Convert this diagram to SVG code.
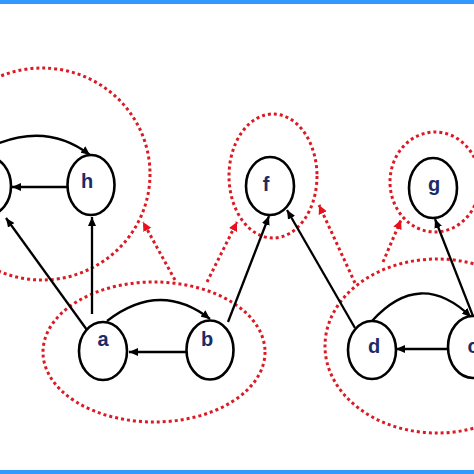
<svg xmlns="http://www.w3.org/2000/svg" width="474" height="474" viewBox="0 0 474 474">
<defs>
<style>
.grp{fill:none;stroke:#dc1a24;stroke-width:3;stroke-dasharray:3 3}
.rarr{fill:none;stroke:#dc1a24;stroke-width:3;stroke-dasharray:3 3;marker-end:url(#rh)}
.edge{fill:none;stroke:#000;stroke-width:2.3;marker-end:url(#bh)}
.node{fill:#fff;stroke:#000;stroke-width:2.6}
.lbl{font-family:"Liberation Sans",Arial,sans-serif;font-weight:bold;font-size:20px;fill:#1c2a66;text-anchor:middle}
</style>
<marker id="bh" markerUnits="userSpaceOnUse" markerWidth="10" markerHeight="8" refX="9" refY="4" orient="auto">
<path d="M0,0 L9,4 L0,8 z" fill="#000"/>
</marker>
<marker id="rh" markerUnits="userSpaceOnUse" markerWidth="10" markerHeight="10" refX="9" refY="4.5" orient="auto">
<path d="M0,0 L9,4.5 L0,9 z" fill="#e8101c"/>
</marker>
</defs>
<rect x="0" y="0" width="474" height="474" fill="#fff"/>
<rect x="0" y="0" width="474" height="4" fill="#3399ff"/>
<rect x="0" y="470" width="474" height="4" fill="#3399ff"/>
<g id="groups">
<ellipse class="grp" cx="42" cy="174" rx="108" ry="106"/>
<ellipse class="grp" cx="154" cy="352" rx="111" ry="70"/>
<ellipse class="grp" cx="273" cy="176" rx="44" ry="62"/>
<ellipse class="grp" cx="435" cy="182" rx="45" ry="50"/>
<ellipse class="grp" cx="437" cy="346" rx="112" ry="87"/>
</g>
<g id="connectors">
<path class="rarr" d="M175,280 L143,222"/>
<path class="rarr" d="M207,282 L237,222"/>
<path class="rarr" d="M355,283 L319,205"/>
<path class="rarr" d="M383,262 L401,220"/>
<path class="edge" d="M-20,152 Q42,118 90,155"/>
<path class="edge" d="M68,187 L12,187"/>
<path class="edge" d="M87,330 L6,218"/>
<path class="edge" d="M92,314 L92,217"/>
<path class="edge" d="M107,321 Q160,280 210,319"/>
<path class="edge" d="M186,352 L129,352"/>
<path class="edge" d="M228,322 L269,216"/>
<path class="edge" d="M355,328 L287,210"/>
<path class="edge" d="M372,321 Q420,268 471,317"/>
<path class="edge" d="M448,349 L396,349"/>
<path class="edge" d="M473,316 L435,219"/>
</g>
<g id="node-e"><ellipse class="node" cx="-12" cy="186" rx="23" ry="29"/></g>
<g id="node-h"><ellipse class="node" cx="91" cy="185" rx="23.5" ry="30"/><text class="lbl" x="87" y="188">h</text></g>
<g id="node-f"><ellipse class="node" cx="270" cy="186" rx="24" ry="29"/><text class="lbl" x="266" y="191">f</text></g>
<g id="node-g"><ellipse class="node" cx="433" cy="188" rx="24" ry="30"/><text class="lbl" x="434" y="191">g</text></g>
<g id="node-a"><ellipse class="node" cx="103" cy="351" rx="24" ry="29"/><text class="lbl" x="103" y="346">a</text></g>
<g id="node-b"><ellipse class="node" cx="210" cy="350" rx="23.5" ry="29.5"/><text class="lbl" x="207" y="346">b</text></g>
<g id="node-d"><ellipse class="node" cx="372" cy="350" rx="24" ry="29"/><text class="lbl" x="374" y="353">d</text></g>
<g id="node-c"><ellipse class="node" cx="473" cy="347" rx="25" ry="31"/><text class="lbl" x="473" y="353">c</text></g>
</svg>
